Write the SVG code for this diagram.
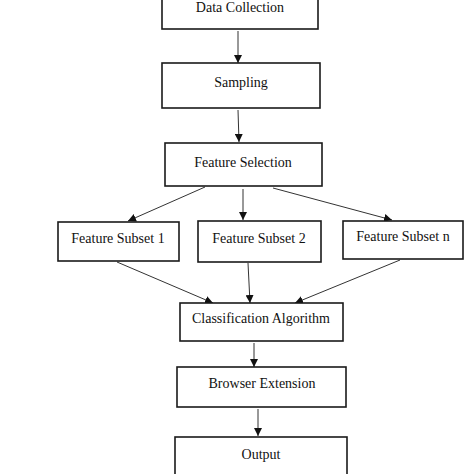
<svg xmlns="http://www.w3.org/2000/svg" width="474" height="474" viewBox="0 0 474 474">
<defs>
<style>
.box{fill:#fff;stroke:#1a1a1a;stroke-width:1.6}
.lbl{font-family:"Liberation Serif","Times New Roman",serif;font-size:14px;fill:#111;text-anchor:middle;dominant-baseline:central}
.edge{stroke:#333;stroke-width:1;fill:none;marker-end:url(#ah)}
</style>
<marker id="ah" viewBox="0 0 10 10" refX="10" refY="5" markerWidth="8" markerHeight="8" markerUnits="userSpaceOnUse" orient="auto">
<path d="M0,0 L10,5 L0,10 z" fill="#111"/>
</marker>
</defs>
<rect width="474" height="474" fill="#fff"/>
<g id="connectors">
<line class="edge" x1="238" y1="31" x2="238" y2="63"/>
<line class="edge" x1="238" y1="110" x2="239" y2="142"/>
<line class="edge" x1="205" y1="187" x2="128" y2="221"/>
<line class="edge" x1="243" y1="189" x2="243" y2="220"/>
<line class="edge" x1="273" y1="188" x2="392" y2="220"/>
<line class="edge" x1="117" y1="262" x2="213" y2="303"/>
<line class="edge" x1="248" y1="263" x2="250" y2="303"/>
<line class="edge" x1="400" y1="260" x2="295" y2="303"/>
<line class="edge" x1="254" y1="343" x2="254" y2="367"/>
<line class="edge" x1="258" y1="409" x2="258" y2="436"/>
</g>
<g id="data-collection">
<rect class="box" x="162" y="-20" width="156" height="49"/>
<text class="lbl" x="240" y="7">Data Collection</text>
</g>
<g id="sampling">
<rect class="box" x="162" y="63" width="158" height="45"/>
<text class="lbl" x="241" y="82">Sampling</text>
</g>
<g id="feature-selection">
<rect class="box" x="165" y="143" width="157" height="43"/>
<text class="lbl" x="243" y="162">Feature Selection</text>
</g>
<g id="feature-subset-1">
<rect class="box" x="58" y="222" width="121" height="39"/>
<text class="lbl" x="118" y="238">Feature Subset 1</text>
</g>
<g id="feature-subset-2">
<rect class="box" x="198" y="221" width="123" height="41"/>
<text class="lbl" x="259" y="238">Feature Subset 2</text>
</g>
<g id="feature-subset-n">
<rect class="box" x="343" y="221" width="120" height="38"/>
<text class="lbl" x="403" y="236">Feature Subset n</text>
</g>
<g id="classification-algorithm">
<rect class="box" x="180" y="303" width="163" height="38"/>
<text class="lbl" x="261" y="318">Classification Algorithm</text>
</g>
<g id="browser-extension">
<rect class="box" x="177" y="367" width="169" height="40"/>
<text class="lbl" x="262" y="383">Browser Extension</text>
</g>
<g id="output">
<rect class="box" x="175" y="437" width="172" height="60"/>
<text class="lbl" x="261" y="454">Output</text>
</g>
</svg>
